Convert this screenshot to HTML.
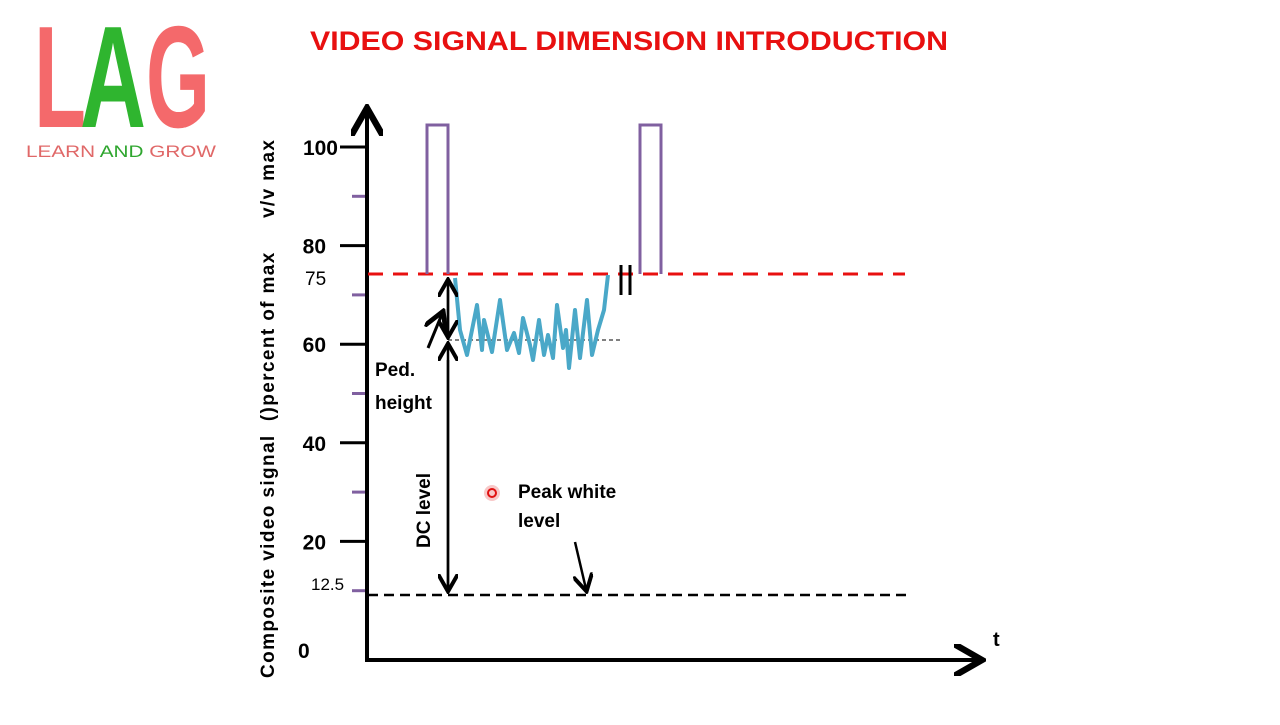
<!DOCTYPE html>
<html><head><meta charset="utf-8"><style>
body{margin:0;background:#fff;width:1280px;height:720px;overflow:hidden;font-family:"Liberation Sans",sans-serif}
</style></head><body>
<svg width="1280" height="720">
<defs><marker id="ah" markerWidth="8" markerHeight="8" refX="6" refY="4" orient="auto"><path d="M0,0 L7,4 L0,8" fill="none" stroke="#000" stroke-width="1.6"/></marker></defs>
<g>
<text x="34" y="127" font-size="145" font-weight="bold" fill="#f4696b" textLength="52" lengthAdjust="spacingAndGlyphs">L</text>
<text x="80" y="127" font-size="145" font-weight="bold" fill="#2fb52f" textLength="66" lengthAdjust="spacingAndGlyphs">A</text>
<text x="146" y="127" font-size="145" font-weight="bold" fill="#f4696b" textLength="64" lengthAdjust="spacingAndGlyphs">G</text>
<text x="26" y="157" font-size="17" fill="#e06868" textLength="190" lengthAdjust="spacingAndGlyphs">LEARN <tspan fill="#2fa62f">AND</tspan> GROW</text>
</g>
<text x="310" y="50" font-size="27" font-weight="bold" fill="#e81010" textLength="638" lengthAdjust="spacingAndGlyphs">VIDEO SIGNAL DIMENSION INTRODUCTION</text>
<text transform="translate(274,678) rotate(-90)" font-size="19" font-weight="bold" fill="#000" textLength="538" lengthAdjust="spacing" xml:space="preserve">Composite video signal  ()percent of max     v/v max</text>
<g id="ticks"></g>
<line x1="367" y1="662" x2="367" y2="112" stroke="#000" stroke-width="4" marker-end="url(#ah)"/>
<line x1="365" y1="660" x2="978" y2="660" stroke="#000" stroke-width="4" marker-end="url(#ah)"/>
<text x="993" y="646" font-size="20" font-weight="bold">t</text>
<text x="298" y="658" font-size="21" font-weight="bold">0</text>
<text x="305" y="285" font-size="19">75</text>
<text x="311" y="590" font-size="17">12.5</text>
<line x1="368" y1="274" x2="905" y2="274" stroke="#e81010" stroke-width="3" stroke-dasharray="15,10"/>
<line x1="368" y1="595" x2="908" y2="595" stroke="#000" stroke-width="2.5" stroke-dasharray="10,6"/>
<line x1="448" y1="340" x2="620" y2="340" stroke="#000" stroke-width="1" stroke-dasharray="4,3"/>
<polyline points="427,274 427,125 448,125 448,274" fill="none" stroke="#8060a0" stroke-width="3"/>
<polyline points="640,274 640,125 661,125 661,274" fill="none" stroke="#8060a0" stroke-width="3"/>
<line x1="621" y1="265" x2="621" y2="295" stroke="#000" stroke-width="3"/>
<line x1="630" y1="265" x2="630" y2="295" stroke="#000" stroke-width="3"/>
<polyline id="noise" fill="none" stroke="#4aa8c8" stroke-width="4" stroke-linejoin="round"/>
<line x1="448" y1="330" x2="448" y2="282" stroke="#000" stroke-width="2.5" marker-end="url(#ah)"/>
<line x1="448" y1="290" x2="448" y2="335" stroke="#000" stroke-width="2.5" marker-end="url(#ah)"/>
<line x1="448" y1="590" x2="448" y2="346" stroke="#000" stroke-width="2.5" marker-end="url(#ah)"/>
<line x1="448" y1="360" x2="448" y2="589" stroke="#000" stroke-width="2.5" marker-end="url(#ah)"/>
<line x1="428" y1="348" x2="442" y2="314" stroke="#000" stroke-width="3" marker-end="url(#ah)"/>
<line x1="575" y1="542" x2="586" y2="589" stroke="#000" stroke-width="2.5" marker-end="url(#ah)"/>
<text x="375" y="376" font-size="19" font-weight="bold">Ped.</text>
<text x="375" y="409" font-size="19" font-weight="bold">height</text>
<text transform="translate(430,548) rotate(-90)" font-size="19" font-weight="bold">DC level</text>
<circle cx="492" cy="493" r="8" fill="#f8c8c8"/><circle cx="492" cy="493" r="4" fill="none" stroke="#e01010" stroke-width="2"/>
<text x="518" y="498" font-size="19" font-weight="bold">Peak white</text>
<text x="518" y="527" font-size="19" font-weight="bold">level</text>
</svg>
<script>
const majorTicks=[100,80,60,40,20];
const minorTicks=[90,70,50,30,10];
const noiseX=[455,460,467,477,482,484,492,500,507,514,519,523,530,533,539,544,548,553,557,563,566,569,575,580,587,592,598,604,608];
const noiseY=[278,330,355,305,350,320,352,300,350,333,353,318,345,360,320,355,335,358,305,348,330,368,310,358,300,355,330,310,275];
const y=v=>640-4.93*v;
const g=document.getElementById('ticks');
const NS='http://www.w3.org/2000/svg';
majorTicks.forEach(v=>{
 const l=document.createElementNS(NS,'line');
 
 
 l.setAttribute('x1',340);l.setAttribute('x2',367);l.setAttribute('y1',y(v));l.setAttribute('y2',y(v));
 l.setAttribute('stroke','#000');l.setAttribute('stroke-width',3);g.appendChild(l);
 const t=document.createElementNS(NS,'text');
 
 
 t.setAttribute('x',v===100?338:326);t.setAttribute('y',y(v)+8);t.setAttribute('text-anchor','end');
 t.setAttribute('font-size',21);t.setAttribute('font-weight','bold');t.textContent=v;g.appendChild(t);
});
minorTicks.forEach(v=>{
 const l=document.createElementNS(NS,'line');
 
 
 l.setAttribute('x1',352);l.setAttribute('x2',367);l.setAttribute('y1',y(v));l.setAttribute('y2',y(v));
 l.setAttribute('stroke','#8060a0');l.setAttribute('stroke-width',3);g.appendChild(l);
});
document.getElementById('noise').setAttribute('points',noiseX.map((x,i)=>x+','+noiseY[i]).join(' '));
</script>
</body></html>
